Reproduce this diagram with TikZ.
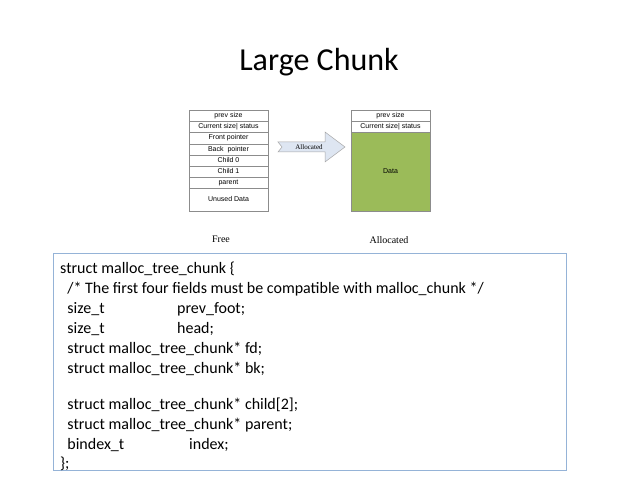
\documentclass[tikz,border=0pt]{standalone}
\usepackage{fontspec}
\setmainfont{Carlito}
\newfontfamily\arial{Liberation Sans}
\newfontfamily\mono{Liberation Serif}
\usetikzlibrary{positioning}
\begin{document}
\begin{tikzpicture}[x=1pt,y=-1pt,
  cell/.style={draw=black!45,line width=0.5pt,fill=white,minimum width=79pt,inner sep=0pt,font=\arial\fontsize{7}{8}\selectfont},
  code/.style={anchor=west,inner sep=0pt,font=\fontsize{16}{18}\selectfont}]
\useasboundingbox (0,0) rectangle (638,478);
\node (title) at (319,62) {\fontsize{32}{36}\selectfont Large Chunk};
% free chunk
\foreach \n/\t/\a/\b in {f1/prev size/110/121, f2/Current size| status/121/132, f3/Front pointer/132/144, f4/Back\ \ pointer/144/155, f5/Child 0/155/166, f6/Child 1/166/177, f7/parent/177/188, f8/Unused Data/188/211}{
  \node[cell,minimum height={\b-\a}] (\n) at (228.5,{(\a+\b)/2}) {\t};
}
% allocated chunk
\node[cell,minimum height=11] (a1) at (390.5,115.5) {prev size};
\node[cell,minimum height=11] (a2) at (390.5,126.5) {Current size| status};
\node[cell,fill={rgb,255:red,155;green,187;blue,89},minimum height=79] (a3) at (390.5,171.5) {Data};
% arrow
\draw[draw=black!35,fill={rgb,255:red,222;green,230;blue,242},line width=0.5pt]
 (278,142) -- (325,142) -- (325,132) -- (345,147) -- (325,162) -- (325,152) -- (278,152) -- (282,147) -- cycle;
\node[font=\mono\fontsize{7}{8}\selectfont] (arr) at (309,147) {Allocated};
\node[font=\mono\fontsize{10}{12}\selectfont] (free) at (221,239) {Free};
\node[font=\mono\fontsize{10}{12}\selectfont] (alloc) at (389,240) {Allocated};
% code box
\draw[draw={rgb,255:red,149;green,179;blue,215},line width=0.8pt] (53,253) rectangle (566,470);
\node[code] (c1) at (60,269) {struct malloc\_tree\_chunk \{};
\node[code] (c2) at (60,289) {\ \ /* The first four fields must be compatible with malloc\_chunk */};
\node[code] (c3) at (60,309) {\ \ size\_t};
\node[code] (c3b) at (177,309) {prev\_foot;};
\node[code] (c4) at (60,329) {\ \ size\_t};
\node[code] (c4b) at (177,329) {head;};
\node[code] (c5) at (60,349) {\ \ struct malloc\_tree\_chunk* fd;};
\node[code] (c6) at (60,369) {\ \ struct malloc\_tree\_chunk* bk;};
\node[code] (c7) at (60,405) {\ \ struct malloc\_tree\_chunk* child[2];};
\node[code] (c8) at (60,425) {\ \ struct malloc\_tree\_chunk* parent;};
\node[code] (c9) at (60,445) {\ \ bindex\_t};
\node[code] (c9b) at (189,445) {index;};
\node[code] (c10) at (60,464) {\};};
\end{tikzpicture}
\end{document}
